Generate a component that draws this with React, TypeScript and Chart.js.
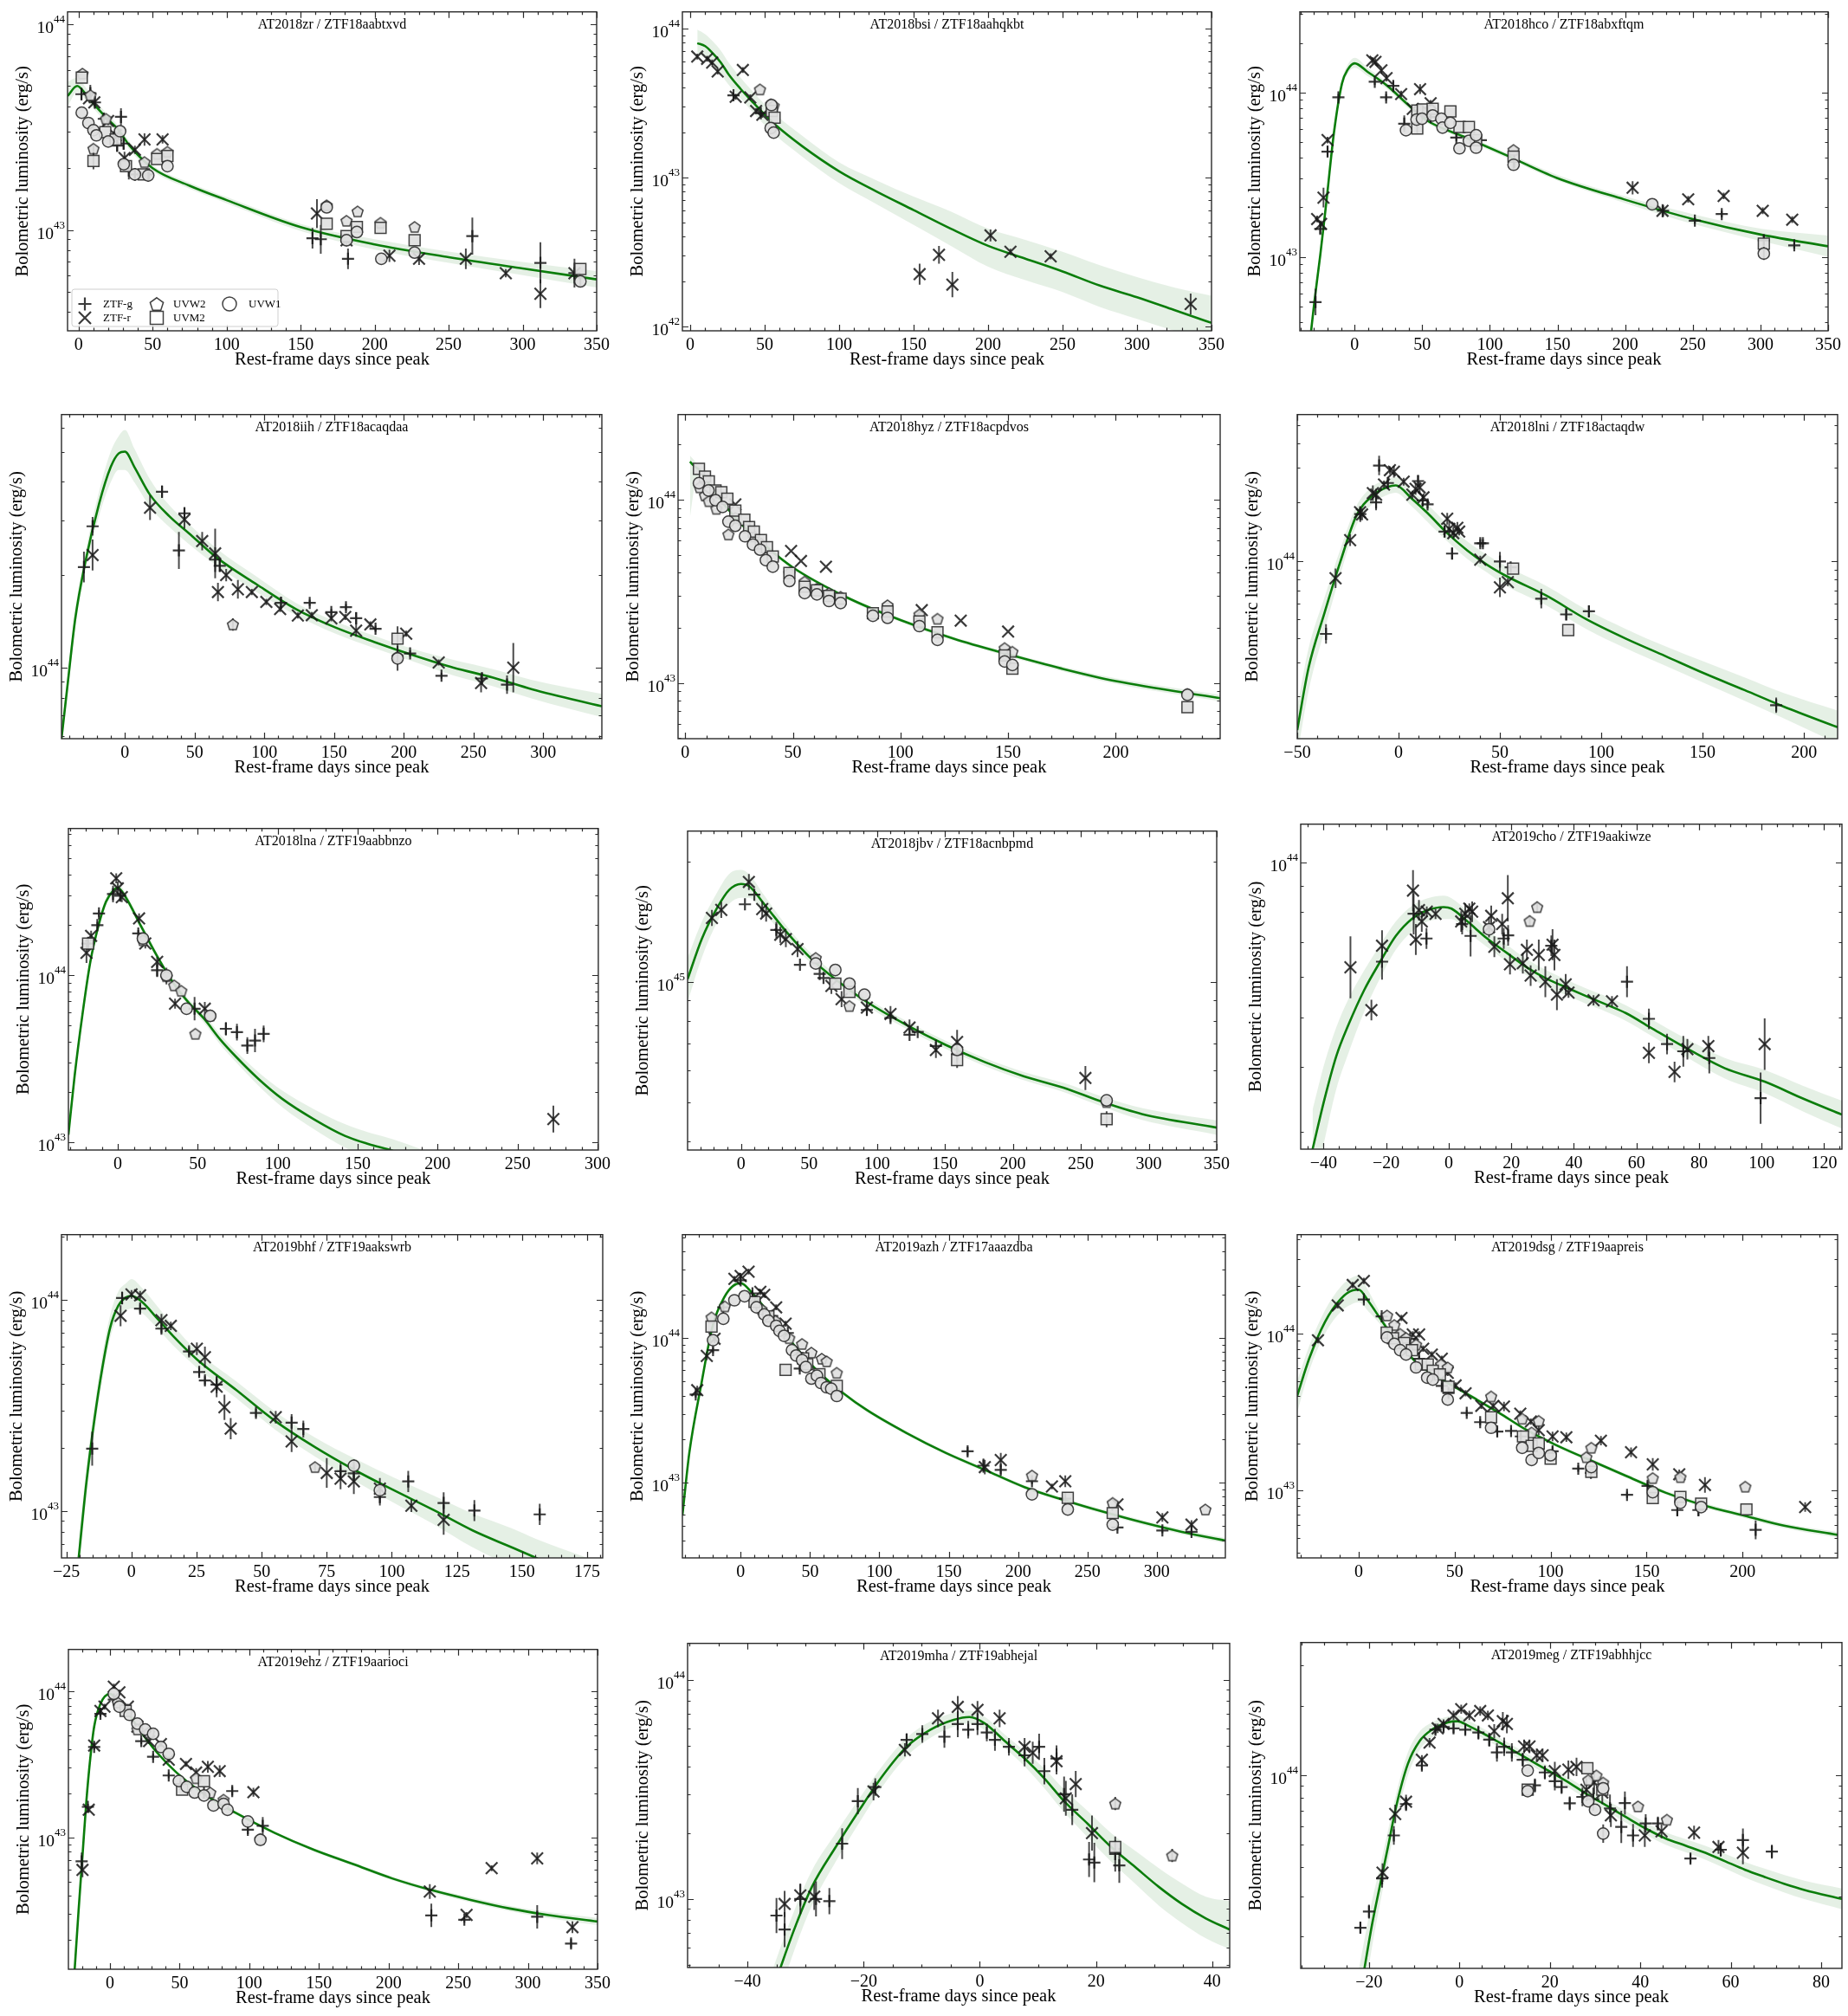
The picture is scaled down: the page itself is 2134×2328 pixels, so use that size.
import React, { useEffect, useRef } from 'react';
import { Chart, registerables } from 'chart.js';
Chart.register(...registerables);

const FONT = '"Liberation Serif", "Times New Roman", Times, serif';
const X_TITLE = 'Rest-frame days since peak';
const Y_TITLE = 'Bolometric luminosity (erg/s)';
const LEGEND_LABELS = ['ZTF-g', 'ZTF-r', 'UVW2', 'UVM2', 'UVW1'];

const MARK = 'rgba(25,25,25,0.85)';
const EDGE = 'rgba(45,45,45,0.9)';
const FILL = 'rgba(224,224,224,0.92)';
const LINE = '#0b7d0b';
const BAND = 'rgba(0,105,0,0.1)';

// Each curve row: [days, log10 L, band low, band high]; each point: [days, log10 L, error (dex)]
// ---------- AT2018zr ----------
const P1_CURVE = [[-7.5, 43.651, 43.6, 43.72], [-1, 43.7, 43.67, 43.74], [5, 43.658, 43.63, 43.69], [10, 43.614, 43.59, 43.64], [18.5, 43.547, 43.525, 43.57], [26.5, 43.49, 43.47, 43.51], [34.4, 43.41, 43.39, 43.43], [50, 43.3, 43.285, 43.315], [75, 43.215, 43.2, 43.23], [100, 43.145, 43.13, 43.16], [150, 43.014, 42.995, 43.03], [200, 42.93, 42.905, 42.955], [250, 42.868, 42.84, 42.895], [300, 42.813, 42.78, 42.845], [350, 42.76, 42.72, 42.8]];
const P1_G = [[1.9, 43.66, 0.03], [7.9, 43.665, 0.04], [11, 43.62, 0.03], [17, 43.54, 0.03], [24, 43.45, 0.03], [26, 43.41, 0.03], [28.6, 43.55, 0.042], [30.4, 43.42, 0.03], [33.9, 43.29, 0.045], [38, 43.27, 0.03], [46, 43.27, 0.03], [158, 42.96, 0.05], [163.6, 42.955, 0.07], [182, 42.86, 0.05], [266, 42.97, 0.09], [312, 42.84, 0.1], [335, 42.79, 0.07]];
const P1_R = [[7, 43.64, 0.02], [10.6, 43.62, 0.02], [19.9, 43.53, 0.02], [25, 43.46, 0.02], [31, 43.35, 0.03], [38, 43.39, 0.02], [44.5, 43.44, 0.03], [56.7, 43.44, 0.02], [161, 43.08, 0.07], [181, 42.95, 0.03], [210, 42.875, 0.03], [230, 42.86, 0.03], [261.6, 42.86, 0.05], [288.6, 42.79, 0.02], [312, 42.69, 0.07], [335, 42.79, 0.05]];
const P1_W2 = [[2.6, 43.76], [8, 43.655], [10, 43.395, 0.02], [18.5, 43.54], [44.5, 43.33], [53, 43.37], [60, 43.38], [167.6, 43.12], [181, 43.045], [188.5, 43.09], [204, 43.035], [227, 43.015]];
const P1_M2 = [[2.1, 43.74], [10, 43.335, 0.04], [18, 43.475], [25, 43.44], [32, 43.31], [44, 43.27], [53, 43.345], [60, 43.36], [167.6, 43.03], [181, 42.97], [188, 43.015], [204, 43.01], [227, 42.95], [339, 42.81]];
const P1_W1 = [[2.1, 43.57], [6.6, 43.52], [10, 43.485], [12, 43.46], [20, 43.43], [28, 43.48], [30.5, 43.32], [38, 43.27], [47, 43.265, 0.03], [60, 43.31], [167.6, 43.11], [181, 42.95], [188, 42.99], [204.5, 42.86], [227, 42.89], [339, 42.75, 0.03]];

// ---------- AT2018bsi ----------
const P2_CURVE = [[4.7, 43.9, 43.83, 43.99], [10, 43.88, 43.8, 43.96], [15.3, 43.83, 43.75, 43.91], [20.5, 43.77, 43.69, 43.85], [25.8, 43.69, 43.62, 43.77], [33.7, 43.594, 43.53, 43.67], [41.6, 43.508, 43.44, 43.58], [50, 43.42, 43.35, 43.49], [57.4, 43.35, 43.28, 43.42], [75, 43.21, 43.14, 43.28], [100, 43.04, 42.96, 43.1], [125, 42.905, 42.82, 42.98], [150, 42.78, 42.68, 42.87], [175, 42.655, 42.54, 42.77], [200, 42.54, 42.4, 42.655], [225, 42.454, 42.31, 42.58], [250, 42.368, 42.23, 42.5], [275, 42.273, 42.13, 42.41], [300, 42.195, 42.05, 42.33], [325, 42.109, 41.97, 42.26], [350, 42.023, 41.9, 42.205]];
const P2_G = [[29, 43.55, 0.02], [47.4, 43.43, 0.02]];
const P2_R = [[4.7, 43.81, 0.02], [11.3, 43.795, 0.02], [14.7, 43.77, 0.02], [18.4, 43.71, 0.02], [30.5, 43.54, 0.02], [35.3, 43.72, 0.02], [40.3, 43.536, 0.02], [44.2, 43.445, 0.02], [48.4, 43.42, 0.02], [154, 42.35, 0.07], [167, 42.48, 0.06], [176, 42.28, 0.085], [201.6, 42.61, 0.04], [215, 42.5, 0.02], [242, 42.47, 0.02], [336, 42.15, 0.07]];
const P2_W2 = [[46.8, 43.59], [54.2, 43.49], [56, 43.48]];
const P2_M2 = [[54.7, 43.445], [56.6, 43.4]];
const P2_W1 = [[54, 43.33], [56, 43.3], [54.5, 43.485]];

// ---------- AT2018hco ----------
const P3_CURVE = [[-33.5, 42.45, 42.4, 42.5], [-29.7, 42.73, 42.69, 42.78], [-25.4, 43.01, 42.97, 43.05], [-21, 43.325, 43.29, 43.36], [-15.2, 43.76, 43.73, 43.79], [-9.3, 44.056, 44.03, 44.08], [-5, 44.14, 44.115, 44.17], [0, 44.177, 44.15, 44.21], [9.6, 44.125, 44.1, 44.15], [24.2, 44.04, 44.02, 44.06], [38.8, 43.93, 43.91, 43.95], [53.3, 43.83, 43.815, 43.845], [82.5, 43.725, 43.71, 43.74], [111.6, 43.62, 43.605, 43.635], [149.5, 43.48, 43.465, 43.5], [199, 43.35, 43.33, 43.37], [250, 43.23, 43.2, 43.26], [301, 43.134, 43.095, 43.17], [350, 43.064, 43.0, 43.13]];
const P3_G = [[-28.9, 42.725, 0.08], [-25.4, 43.17, 0.03], [-20, 43.64, 0.03], [-12, 43.97, 0.02], [14.9, 44.065, 0.02], [23.3, 43.97, 0.02], [28.6, 44.04, 0.03], [36.7, 43.81, 0.05], [56.2, 43.85, 0.03], [75.2, 43.725, 0.02], [93.3, 43.71, 0.02], [118, 43.58, 0.04], [228, 43.28, 0.03], [251.5, 43.22, 0.02], [271.4, 43.26, 0.02], [302.5, 43.1, 0.03], [325, 43.07, 0.02]];
const P3_R = [[-27.7, 43.23, 0.02], [-24.8, 43.2, 0.02], [-23, 43.36, 0.06], [-20, 43.71, 0.02], [13.1, 44.195, 0.02], [15.4, 44.186, 0.02], [19.8, 44.134, 0.02], [23.6, 44.087, 0.02], [34.4, 43.99, 0.02], [43, 43.9, 0.02], [48.4, 44.02, 0.03], [56.2, 43.934, 0.02], [205.5, 43.42, 0.04], [227.6, 43.28, 0.04], [246.6, 43.35, 0.02], [272.8, 43.37, 0.02], [301.7, 43.28, 0.02], [323.5, 43.226, 0.02]];
const P3_W2 = [[49.8, 43.885], [117.5, 43.65]];
const P3_M2 = [[46.3, 43.89], [50.4, 43.896], [46.3, 43.78, 0.03], [57.7, 43.9], [70.8, 43.885], [77.5, 43.79], [84.5, 43.79], [89.8, 43.71], [117.5, 43.61], [302.5, 43.08]];
const P3_W1 = [[38, 43.77], [45.8, 43.835], [49.8, 43.84], [57.7, 43.86], [64.1, 43.84], [65, 43.786], [70.8, 43.815], [77.5, 43.66], [84.5, 43.706], [89.8, 43.74], [89.8, 43.664], [117.5, 43.56, 0.03], [220, 43.32], [302.5, 43.02, 0.04]];

// ---------- AT2018iih ----------
const P4_CURVE = [[-45.5, 43.77, 43.74, 43.8], [-41, 43.95, 43.92, 43.98], [-35.6, 44.16, 44.13, 44.19], [-28.5, 44.34, 44.31, 44.37], [-18.6, 44.53, 44.49, 44.57], [-10.2, 44.65, 44.6, 44.7], [-4.5, 44.694, 44.64, 44.75], [0, 44.7, 44.64, 44.77], [6.8, 44.65, 44.6, 44.71], [18, 44.56, 44.52, 44.61], [32, 44.49, 44.455, 44.525], [46, 44.435, 44.4, 44.465], [66, 44.356, 44.33, 44.385], [94.4, 44.27, 44.245, 44.295], [122.6, 44.19, 44.17, 44.21], [151, 44.13, 44.11, 44.15], [179, 44.083, 44.063, 44.103], [207, 44.04, 44.02, 44.06], [235.6, 44.0, 43.975, 44.025], [264, 43.968, 43.94, 43.995], [292, 43.93, 43.9, 43.96], [342, 43.875, 43.84, 43.915]];
const P4_G = [[-29.4, 44.326, 0.05], [-23.2, 44.458, 0.03], [26.6, 44.57, 0.02], [38.7, 44.38, 0.06], [42.7, 44.5, 0.02], [64.7, 44.35, 0.04], [68, 44.33, 0.02], [111.9, 44.21, 0.02], [132.5, 44.21, 0.01], [148, 44.18, 0.01], [158.5, 44.196, 0.01], [165.8, 44.16, 0.02], [179.7, 44.126, 0.01], [204.5, 44.046, 0.01], [227, 43.974, 0.01], [256, 43.965, 0.02], [274, 43.945, 0.03]];
const P4_R = [[-23.2, 44.365, 0.05], [18, 44.518, 0.04], [42.7, 44.48, 0.03], [55.4, 44.41, 0.03], [64.7, 44.37, 0.08], [66.7, 44.245, 0.03], [72.6, 44.3, 0.02], [81, 44.254, 0.03], [91, 44.245, 0.01], [101.4, 44.213, 0.01], [111.3, 44.19, 0.01], [124, 44.169, 0.01], [134, 44.17, 0.01], [148, 44.16, 0.01], [158, 44.164, 0.01], [165.8, 44.12, 0.02], [176, 44.14, 0.01], [201.7, 44.11, 0.01], [225, 44.017, 0.01], [255.4, 43.95, 0.03], [278.5, 44.0, 0.08]];
const P4_W2 = [[77.4, 44.14, 0.02], [195.5, 44.035]];
const P4_M2 = [[195.5, 44.094, 0.04]];
const P4_W1 = [[195.5, 44.03, 0.04]];

// ---------- AT2018hyz ----------
const P5_CURVE = [[2.2, 44.207, 43.9, 44.24], [4.5, 44.18, 44.08, 44.21], [6.8, 44.16, 44.13, 44.18], [12, 44.067, 44.055, 44.08], [25, 43.88, 43.87, 43.89], [37, 43.75, 43.74, 43.76], [50, 43.63, 43.62, 43.64], [75, 43.467, 43.457, 43.477], [100, 43.343, 43.333, 43.353], [125, 43.24, 43.23, 43.25], [150, 43.156, 43.145, 43.167], [175, 43.078, 43.065, 43.09], [200, 43.01, 42.995, 43.025], [248.5, 42.917, 42.9, 42.935]];
const P5_G = [];
const P5_R = [[23.3, 43.974], [49.2, 43.72], [53.8, 43.665], [65.4, 43.634], [109.9, 43.397], [128, 43.34], [150, 43.28]];
const P5_W2 = [[6.8, 44.067], [9.2, 44.023], [11, 43.992], [14.5, 43.95], [20.1, 43.81], [23.3, 43.9], [31.9, 43.8], [35.2, 43.76], [48.4, 43.6], [55.5, 43.553], [61.2, 43.514], [66.8, 43.49], [72.2, 43.47], [94, 43.424], [108.8, 43.374], [117.2, 43.35], [148.4, 43.19], [152, 43.17], [233.3, 42.94]];
const P5_M2 = [[6.4, 44.168], [9.2, 44.126], [11, 44.1], [14.1, 44.05], [16.8, 44.04], [19.6, 44.005], [23.3, 43.94], [27.5, 43.89], [29.7, 43.85], [31.9, 43.826], [35.2, 43.78], [38, 43.74], [40.7, 43.69], [48.4, 43.6], [55.5, 43.525], [61.2, 43.506], [66.8, 43.475], [72.2, 43.46], [87.2, 43.38], [94, 43.39], [108.8, 43.335], [117.2, 43.276], [148.4, 43.15], [152, 43.078], [233.3, 42.868]];
const P5_W1 = [[6.4, 44.09], [10.8, 44.05], [14.1, 43.997], [17.4, 43.96], [20.1, 43.88], [23.3, 43.857], [27.8, 43.8], [31.5, 43.755], [34.8, 43.727], [37.5, 43.67], [40.7, 43.634], [48.4, 43.556], [55.5, 43.49], [61.2, 43.483], [66.8, 43.447], [72.2, 43.436], [87.2, 43.366], [94, 43.355], [108.8, 43.31], [117.2, 43.235], [148.4, 43.117], [152, 43.098], [233.3, 42.935]];

// ---------- AT2018lni ----------
const P6_CURVE = [[-50, 43.13, 43.0, 43.25], [-44.4, 43.45, 43.33, 43.55], [-36.6, 43.73, 43.64, 43.81], [-28.7, 43.996, 43.93, 44.06], [-20.9, 44.23, 44.18, 44.28], [-13.1, 44.333, 44.29, 44.38], [-5.3, 44.38, 44.34, 44.42], [-1.4, 44.388, 44.35, 44.43], [6.5, 44.32, 44.28, 44.36], [14.3, 44.245, 44.2, 44.29], [24, 44.142, 44.1, 44.19], [33.8, 44.054, 44.01, 44.1], [43.6, 43.98, 43.94, 44.03], [53.4, 43.92, 43.87, 43.97], [73, 43.82, 43.77, 43.87], [92.5, 43.7, 43.65, 43.75], [112, 43.6, 43.55, 43.65], [131.6, 43.51, 43.46, 43.56], [151, 43.42, 43.37, 43.48], [170.7, 43.335, 43.28, 43.4], [190, 43.25, 43.19, 43.32], [216.6, 43.144, 43.06, 43.23]];
const P6_G = [[-35.8, 43.624, 0.05], [-18.9, 44.24, 0.04], [-11.1, 44.3, 0.04], [-9.6, 44.49, 0.05], [-5.3, 44.4, 0.03], [9.6, 44.41, 0.03], [11.9, 44.31, 0.03], [14.3, 44.29, 0.02], [22.7, 44.15, 0.03], [26.4, 44.037, 0.03], [40.3, 44.09, 0.02], [41.6, 44.09, 0.02], [50, 43.996, 0.05], [55.3, 43.966, 0.02], [70.4, 43.805, 0.05], [82.7, 43.724, 0.03], [93.9, 43.74, 0.03], [186.3, 43.257, 0.04]];
const P6_R = [[-31.1, 43.91, 0.05], [-23.9, 44.106, 0.03], [-19, 44.25, 0.03], [-18, 44.238, 0.03], [-12.7, 44.348, 0.04], [-11.1, 44.34, 0.03], [-7.2, 44.392, 0.02], [-4.3, 44.466, 0.02], [-2.3, 44.458, 0.03], [2.5, 44.407, 0.02], [6.8, 44.34, 0.02], [8.4, 44.37, 0.03], [10.4, 44.377, 0.03], [12.3, 44.326, 0.02], [24, 44.216, 0.03], [25, 44.164, 0.04], [27, 44.142, 0.03], [29, 44.17, 0.03], [29.9, 44.15, 0.02], [40.3, 44.006, 0.02], [50, 43.863, 0.05], [53.9, 43.89, 0.02]];
const P6_W2 = [];
const P6_M2 = [[56.5, 43.96], [83.7, 43.643]];
const P6_W1 = [];

// ---------- AT2018lna ----------
const P7_CURVE = [[-30.9, 43.046, 43.0, 43.09], [-27, 43.4, 43.36, 43.44], [-22, 43.774, 43.74, 43.81], [-17.2, 44.08, 44.05, 44.11], [-12.3, 44.29, 44.26, 44.32], [-7.4, 44.44, 44.415, 44.465], [-2.5, 44.51, 44.485, 44.535], [0, 44.524, 44.5, 44.55], [4.9, 44.467, 44.445, 44.49], [14.7, 44.29, 44.27, 44.31], [24.5, 44.116, 44.095, 44.135], [34.3, 43.96, 43.94, 43.98], [44, 43.84, 43.82, 43.86], [54, 43.74, 43.715, 43.765], [63.7, 43.62, 43.59, 43.65], [73.5, 43.517, 43.485, 43.55], [88, 43.38, 43.34, 43.42], [103, 43.26, 43.21, 43.31], [122.5, 43.14, 43.08, 43.2], [142, 43.04, 42.97, 43.11], [157, 42.99, 42.91, 43.06], [172, 42.95, 42.89, 43.02], [191, 42.88, 42.81, 42.955]];
const P7_G = [[-18.6, 44.19, 0.04], [-12.8, 44.3, 0.02], [-11.8, 44.37, 0.02], [-3, 44.486, 0.05], [1.5, 44.476, 0.03], [12.8, 44.25, 0.02], [24.6, 44.03, 0.04], [30.4, 43.995, 0.05], [48, 43.8, 0.07], [67.6, 43.68, 0.04], [74.5, 43.66, 0.05], [81, 43.58, 0.05], [85.8, 43.61, 0.07], [91.2, 43.65, 0.05]];
const P7_R = [[-19.6, 44.134, 0.06], [-16.7, 44.236, 0.03], [-1, 44.58, 0.03], [0, 44.52, 0.04], [2.5, 44.467, 0.03], [13.3, 44.34, 0.03], [17.2, 44.19, 0.03], [24.6, 44.08, 0.03], [35.8, 43.83, 0.03], [54.4, 43.8, 0.04], [272.4, 43.14, 0.08]];
const P7_W2 = [[15.7, 44.21], [30.4, 43.995], [35.3, 43.94], [39.7, 43.907], [48.5, 43.65], [57.8, 43.76]];
const P7_M2 = [[-18.6, 44.19]];
const P7_W1 = [[15.7, 44.22], [30.4, 44.0], [43, 43.8], [57.8, 43.757]];

// ---------- AT2018jbv ----------
const P8_CURVE = [[-39.3, 45.007, 44.95, 45.06], [-28.9, 45.107, 45.06, 45.15], [-17.4, 45.186, 45.15, 45.225], [-8.7, 45.23, 45.195, 45.27], [0, 45.245, 45.21, 45.28], [5.8, 45.24, 45.21, 45.27], [17.4, 45.193, 45.17, 45.215], [34.7, 45.12, 45.105, 45.135], [52, 45.057, 45.045, 45.07], [69.4, 45.007, 44.995, 45.02], [92.6, 44.95, 44.94, 44.96], [121.5, 44.893, 44.883, 44.903], [150.4, 44.843, 44.833, 44.853], [179.3, 44.8, 44.79, 44.81], [208.3, 44.764, 44.754, 44.775], [237.2, 44.736, 44.725, 44.748], [266, 44.7, 44.688, 44.713], [295, 44.67, 44.655, 44.685], [350, 44.636, 44.618, 44.654]];
const P8_G = [[2.9, 45.194], [9.8, 45.218], [26, 45.13, 0.02], [43.4, 45.043], [57.9, 45.02], [60.7, 45.01], [92.6, 44.93], [110, 44.91], [124, 44.868], [130, 44.875], [143.4, 44.84], [159, 44.82, 0.02]];
const P8_R = [[-21.4, 45.16, 0.02], [-14.5, 45.18, 0.02], [5.8, 45.25, 0.02], [15.6, 45.182, 0.02], [18.5, 45.171, 0.02], [28.9, 45.118, 0.02], [33, 45.107, 0.02], [41.6, 45.082, 0.02], [66.5, 44.99, 0.02], [74, 44.957, 0.02], [92.6, 44.936, 0.02], [110, 44.92, 0.02], [124, 44.886, 0.02], [143.4, 44.83, 0.02], [159, 44.85, 0.03], [253.4, 44.76, 0.03]];
const P8_W2 = [[55, 45.06], [79.8, 44.94], [269, 44.7]];
const P8_M2 = [[69.4, 44.996], [79.8, 44.975], [159, 44.805, 0.02], [269, 44.657, 0.02]];
const P8_W1 = [[55, 45.046], [69.4, 45.03], [79.8, 44.996], [90.8, 44.968], [159, 44.83], [269, 44.704]];

// ---------- AT2019cho ----------
const P9_CURVE = [[-43.5, 43.443, 43.35, 43.52], [-39.7, 43.54, 43.46, 43.61], [-35.9, 43.624, 43.56, 43.68], [-32, 43.685, 43.63, 43.735], [-27, 43.752, 43.71, 43.79], [-21.9, 43.807, 43.775, 43.84], [-16.9, 43.857, 43.83, 43.885], [-11.8, 43.89, 43.865, 43.915], [-6.7, 43.907, 43.885, 43.93], [-1.6, 43.913, 43.89, 43.935], [0.9, 43.91, 43.89, 43.93], [6, 43.885, 43.865, 43.905], [12.3, 43.852, 43.835, 43.87], [18.6, 43.824, 43.807, 43.84], [25, 43.796, 43.78, 43.812], [31.3, 43.774, 43.758, 43.79], [37.6, 43.757, 43.742, 43.772], [44, 43.74, 43.725, 43.755], [50.3, 43.724, 43.71, 43.74], [56.7, 43.707, 43.692, 43.722], [64.3, 43.68, 43.665, 43.697], [75.7, 43.64, 43.623, 43.658], [88.3, 43.6, 43.58, 43.62], [101, 43.574, 43.552, 43.597], [113.7, 43.54, 43.515, 43.565], [125.7, 43.51, 43.483, 43.537]];
const P9_G = [[-21.3, 43.807, 0.035], [-11.2, 43.9, 0.04], [-7.1, 43.852, 0.02], [4.3, 43.88, 0.02], [7, 43.857, 0.04], [17.6, 43.852, 0.02], [19, 43.858, 0.02], [32.8, 43.838, 0.02], [57, 43.768, 0.03], [64, 43.696, 0.02], [69.8, 43.647, 0.02], [75, 43.633, 0.03], [83.3, 43.62, 0.03], [99.7, 43.542, 0.05]];
const P9_R = [[-31.4, 43.796, 0.06], [-24.7, 43.713, 0.02], [-21.3, 43.838, 0.03], [-11.4, 43.945, 0.04], [-10.5, 43.85, 0.03], [-9.5, 43.907, 0.02], [-8.6, 43.885, 0.02], [-7, 43.904, 0.01], [-4.2, 43.9, 0.01], [4, 43.885, 0.02], [5.3, 43.9, 0.02], [6.6, 43.91, 0.01], [7.5, 43.904, 0.02], [12.9, 43.874, 0.02], [13.6, 43.896, 0.02], [14.6, 43.836, 0.02], [17.1, 43.88, 0.02], [18.9, 43.93, 0.045], [19.6, 43.802, 0.02], [23.7, 43.804, 0.02], [25, 43.83, 0.02], [26.2, 43.78, 0.02], [28.8, 43.82, 0.03], [30.9, 43.768, 0.03], [33.2, 43.84, 0.03], [33.8, 43.82, 0.03], [34.6, 43.743, 0.03], [37.4, 43.763, 0.02], [38.3, 43.747, 0.01], [46.3, 43.732, 0.01], [52.2, 43.73, 0.01], [64, 43.63, 0.02], [72.2, 43.593, 0.02], [76.3, 43.637, 0.02], [83, 43.643, 0.02], [101, 43.647, 0.05]];
const P9_W2 = [[25.9, 43.886, 0.01], [28.3, 43.913, 0.01]];
const P9_M2 = [];
const P9_W1 = [[12.9, 43.87]];

// ---------- AT2019bhf ----------
const P10_CURVE = [[-20.3, 42.78, 42.7, 42.86], [-17.3, 43.14, 43.07, 43.21], [-14.2, 43.44, 43.38, 43.5], [-11.2, 43.68, 43.62, 43.74], [-8.2, 43.87, 43.82, 43.93], [-5.1, 43.973, 43.92, 44.04], [-2.1, 44.0135, 43.95, 44.08], [0, 44.02, 43.96, 44.1], [3.9, 43.993, 43.94, 44.06], [10, 43.912, 43.865, 43.97], [16, 43.83, 43.785, 43.88], [25.1, 43.72, 43.68, 43.76], [40.3, 43.574, 43.535, 43.615], [55.4, 43.426, 43.385, 43.47], [70.5, 43.304, 43.26, 43.35], [85.7, 43.196, 43.145, 43.25], [100.8, 43.1, 43.04, 43.16], [116, 43.007, 42.94, 43.075], [131, 42.91, 42.83, 42.99], [146, 42.83, 42.74, 42.92], [155.3, 42.78, 42.69, 42.87], [175, 42.66, 42.56, 42.78]];
const P10_G = [[-15.1, 43.297, 0.08], [-3.6, 44.01, 0.03], [3.3, 43.96, 0.02], [11.5, 43.865, 0.02], [22.1, 43.757, 0.02], [26, 43.66, 0.02], [28.2, 43.62, 0.02], [32.7, 43.6, 0.04], [47.8, 43.466, 0.02], [61.5, 43.42, 0.04], [66, 43.39, 0.04], [80.3, 43.19, 0.04], [85.4, 43.18, 0.04], [95.4, 43.068, 0.04], [106.3, 43.142, 0.05], [119.9, 43.04, 0.05], [131.7, 43.004, 0.05], [156.8, 42.986, 0.05]];
const P10_R = [[-4.2, 43.926, 0.05], [0, 44.027, 0.02], [3.3, 44.023, 0.02], [11.5, 43.905, 0.03], [15.1, 43.878, 0.02], [25.1, 43.77, 0.03], [28.2, 43.73, 0.05], [32.7, 43.59, 0.05], [35.7, 43.493, 0.06], [38.1, 43.392, 0.05], [55.4, 43.446, 0.03], [61.5, 43.331, 0.05], [75, 43.182, 0.07], [80.3, 43.155, 0.05], [85.4, 43.142, 0.06], [95.4, 43.108, 0.05], [107.5, 43.027, 0.03], [119.9, 42.96, 0.07]];
const P10_W2 = [[70.5, 43.21, 0.02]];
const P10_M2 = [];
const P10_W1 = [[85.4, 43.216, 0.03], [95.4, 43.1]];

// ---------- AT2019azh ----------
const P11_CURVE = [[-42, 42.773, 42.75, 42.8], [-37, 43.207, 43.19, 43.225], [-28.4, 43.68, 43.665, 43.695], [-19.9, 44.095, 44.08, 44.11], [-11.4, 44.29, 44.275, 44.305], [-5.7, 44.36, 44.345, 44.375], [0, 44.38, 44.365, 44.395], [8.5, 44.31, 44.295, 44.325], [17, 44.213, 44.2, 44.226], [28.4, 44.075, 44.062, 44.088], [39.8, 43.937, 43.925, 43.95], [56.8, 43.76, 43.748, 43.772], [73.9, 43.62, 43.608, 43.632], [90.9, 43.503, 43.49, 43.515], [119.3, 43.345, 43.333, 43.357], [147.7, 43.207, 43.195, 43.22], [176, 43.089, 43.076, 43.102], [204.5, 42.97, 42.957, 42.983], [233, 42.88, 42.866, 42.894], [261, 42.8, 42.785, 42.815], [289.8, 42.725, 42.709, 42.741], [318, 42.66, 42.643, 42.677], [349.4, 42.6, 42.582, 42.618]];
const P11_G = [[-32.4, 43.61, 0.02], [-19.9, 43.917, 0.02], [-12.5, 44.213, 0.02], [0, 44.4, 0.02], [8.5, 44.31, 0.02], [10.2, 44.256, 0.02], [22.7, 44.154, 0.02], [34, 44.036, 0.02], [40.9, 43.897, 0.02], [42.6, 43.79, 0.02], [163.6, 43.217, 0.03], [175, 43.118, 0.05], [187.5, 43.089, 0.03], [210, 43.01, 0.02], [234, 42.89, 0.02], [271.6, 42.69, 0.02], [304, 42.67, 0.02], [325, 42.66, 0.02]];
const P11_R = [[-31.3, 43.64, 0.03], [-24.4, 43.877, 0.03], [-18.8, 43.996, 0.03], [-4.5, 44.41, 0.02], [0, 44.43, 0.02], [5.7, 44.46, 0.02], [14.2, 44.32, 0.02], [17, 44.3, 0.02], [25.6, 44.213, 0.02], [32.4, 44.1, 0.02], [176, 43.108, 0.05], [187.5, 43.157, 0.05], [224.4, 42.974, 0.02], [234, 43.01, 0.04], [271.6, 42.85, 0.02], [304, 42.76, 0.03], [325, 42.71, 0.03]];
const P11_W2 = [[-21, 44.144], [-11.4, 44.22], [15, 44.2], [25, 44.12], [35, 44.0], [44.3, 43.96], [51, 43.9], [58.5, 43.858], [62, 43.84], [69.3, 43.76], [210, 43.05], [268.2, 42.86], [335, 42.815]];
const P11_M2 = [[-21, 44.08], [10, 44.25], [20, 44.15], [32.4, 43.78], [45, 43.86], [48, 43.82], [56.8, 43.75], [69.3, 43.67], [235.8, 42.895], [268.2, 42.79]];
const P11_W1 = [[-19.9, 43.986], [-12.5, 44.134], [-4.5, 44.262], [2.8, 44.29], [11.4, 44.213], [17, 44.164], [20, 44.12], [25.6, 44.085], [28, 44.05], [31.3, 44.016], [37, 43.917], [40, 43.88], [44.3, 43.848], [47, 43.8], [51, 43.72], [55, 43.74], [57.9, 43.69], [62, 43.66], [65.3, 43.65], [69.3, 43.6], [210, 42.92], [235.8, 42.815], [268.2, 42.71]];

// ---------- AT2019dsg ----------
const P12_CURVE = [[-32, 43.604, 43.5, 43.7], [-25.8, 43.84, 43.76, 43.92], [-17.5, 44.076, 44.0, 44.15], [-9.3, 44.222, 44.14, 44.3], [-3.1, 44.276, 44.19, 44.36], [0, 44.28, 44.2, 44.37], [5.2, 44.204, 44.14, 44.27], [11.3, 44.095, 44.06, 44.13], [19.6, 43.95, 43.93, 43.97], [29.9, 43.82, 43.805, 43.835], [40.2, 43.73, 43.715, 43.745], [50.5, 43.658, 43.645, 43.67], [60.8, 43.585, 43.572, 43.598], [73.2, 43.495, 43.483, 43.507], [87.6, 43.385, 43.373, 43.397], [102, 43.295, 43.283, 43.307], [118.6, 43.204, 43.192, 43.216], [139, 43.095, 43.083, 43.107], [159.8, 42.987, 42.975, 43.0], [180.4, 42.904, 42.89, 42.918], [201, 42.84, 42.825, 42.855], [221.6, 42.776, 42.76, 42.792], [249.5, 42.718, 42.7, 42.736]];
const P12_G = [[2.7, 44.218, 0.02], [12, 44.11, 0.02], [26.8, 43.967, 0.02], [31.5, 43.84, 0.02], [43.3, 43.667, 0.02], [46.8, 43.622, 0.03], [56.3, 43.495, 0.02], [63.3, 43.436, 0.02], [72.2, 43.376, 0.03], [79.4, 43.38, 0.02], [84.5, 43.345, 0.02], [101, 43.25, 0.03], [114.4, 43.14, 0.02], [121, 43.113, 0.03], [139.8, 42.973, 0.02], [150.5, 43.03, 0.03], [166, 42.876, 0.04], [177, 42.876, 0.04], [206.8, 42.75, 0.06]];
const P12_R = [[-21.2, 43.958, 0.02], [-10.9, 44.18, 0.02], [-3.1, 44.31, 0.02], [2.7, 44.336, 0.02], [22.3, 44.1, 0.02], [28.2, 43.995, 0.02], [31.5, 43.995, 0.02], [33.6, 43.904, 0.02], [38.1, 43.867, 0.02], [43.3, 43.84, 0.02], [46.4, 43.75, 0.02], [50.5, 43.67, 0.02], [55.7, 43.62, 0.02], [63.9, 43.54, 0.02], [70.1, 43.54, 0.02], [75.7, 43.536, 0.03], [84.2, 43.49, 0.02], [89.7, 43.44, 0.02], [93.8, 43.385, 0.03], [101, 43.345, 0.03], [108.2, 43.34, 0.03], [126.2, 43.318, 0.03], [141.9, 43.244, 0.03], [153.2, 43.167, 0.04], [167, 43.104, 0.03], [180.4, 43.036, 0.05], [232.6, 42.895, 0.03]];
const P12_W2 = [[14.8, 44.116], [18.6, 44.055], [21.6, 43.998], [24.7, 43.973], [29.9, 43.93], [42.9, 43.804], [46.4, 43.785], [69, 43.6], [85.2, 43.458], [90.1, 43.37], [93.8, 43.444], [118.6, 43.213], [121.2, 43.273], [153.2, 43.08], [167.6, 43.086], [201.4, 43.025]];
const P12_M2 = [[14.6, 44.007], [17.9, 43.97], [23.7, 43.94], [27.8, 43.895], [32.4, 43.804], [36, 43.804], [38.6, 43.764], [42.3, 43.74], [46.8, 43.662], [69, 43.467], [85.6, 43.345], [90.1, 43.285], [93.8, 43.3], [100, 43.204], [121.2, 43.12], [153.2, 42.953], [167.6, 42.96], [178.4, 42.916], [202, 42.88]];
const P12_W1 = [[14.8, 43.976], [18.6, 43.935], [21.6, 43.895], [24.7, 43.867], [29.9, 43.785], [35.7, 43.72], [38.6, 43.707], [46.4, 43.58], [69, 43.4], [85.2, 43.273], [90.1, 43.195], [93.8, 43.24], [100, 43.225], [121.2, 43.15], [153.2, 42.99], [167.6, 42.922], [178.4, 42.895]];

// ---------- AT2019ehz ----------
const P13_CURVE = [[-25.3, 42.098, 42.08, 42.12], [-22.5, 42.5, 42.48, 42.52], [-19.7, 42.876, 42.86, 42.895], [-16.9, 43.25, 43.235, 43.265], [-14.1, 43.543, 43.53, 43.556], [-11.3, 43.76, 43.748, 43.772], [-6.8, 43.916, 43.905, 43.928], [0, 43.984, 43.972, 43.996], [5.6, 43.935, 43.924, 43.946], [14.1, 43.837, 43.826, 43.848], [22.5, 43.72, 43.71, 43.73], [33.8, 43.582, 43.572, 43.592], [47.8, 43.445, 43.435, 43.455], [67.5, 43.298, 43.288, 43.308], [90, 43.17, 43.16, 43.18], [118, 43.033, 43.023, 43.043], [146.3, 42.916, 42.905, 42.927], [174.5, 42.818, 42.806, 42.83], [202.6, 42.72, 42.707, 42.733], [230.7, 42.64, 42.625, 42.655], [258.9, 42.573, 42.556, 42.59], [287, 42.514, 42.495, 42.533], [315, 42.469, 42.448, 42.49], [350, 42.425, 42.4, 42.45]];
const P13_G = [[-20.3, 42.837, 0.06], [-15.8, 43.21, 0.02], [-11.3, 43.62, 0.02], [-6.8, 43.847, 0.02], [2.8, 43.945, 0.02], [22.5, 43.66, 0.02], [31, 43.553, 0.02], [42.2, 43.425, 0.02], [50.6, 43.367, 0.02], [67.5, 43.308, 0.02], [87.8, 43.318, 0.03], [99, 43.053, 0.03], [109.7, 43.08, 0.06], [230.7, 42.467, 0.08], [254.4, 42.437, 0.02], [306.7, 42.457, 0.08], [331, 42.274, 0.03]];
const P13_R = [[-19.7, 42.778, 0.05], [-15.2, 43.19, 0.02], [-11.3, 43.63, 0.02], [-6.8, 43.867, 0.02], [-3.9, 43.896, 0.02], [2.8, 44.033, 0.02], [6.8, 43.994, 0.02], [12.9, 43.896, 0.02], [19.7, 43.76, 0.02], [28.1, 43.66, 0.02], [36.6, 43.64, 0.02], [42.2, 43.533, 0.02], [54.6, 43.504, 0.02], [61.9, 43.445, 0.03], [70.3, 43.484, 0.04], [78.8, 43.455, 0.04], [103, 43.31, 0.03], [229.6, 42.63, 0.05], [256, 42.47, 0.02], [274, 42.79, 0.02], [306.7, 42.857, 0.04], [332, 42.386, 0.04]];
const P13_W2 = [[5.6, 43.925], [19.7, 43.74], [28.1, 43.72], [61.9, 43.406], [72, 43.308], [81.6, 43.259], [108, 42.99]];
const P13_M2 = [[11.3, 43.867], [51.8, 43.327], [67.5, 43.386]];
const P13_W1 = [[2.8, 43.984], [6.8, 43.896], [14.1, 43.84], [19.7, 43.78], [25.3, 43.74], [31, 43.71], [36.6, 43.62], [42.2, 43.573], [49.5, 43.387], [55.2, 43.347], [60.8, 43.308], [67.5, 43.288], [74.3, 43.22], [81.6, 43.23], [84.4, 43.19], [99, 43.11], [108, 42.984]];

// ---------- AT2019mha ----------
const P14_CURVE = [[-36, 42.55, 42.44, 42.65], [-34.3, 42.687, 42.58, 42.78], [-31.6, 42.885, 42.79, 42.97], [-28.9, 43.055, 42.97, 43.13], [-24.8, 43.237, 43.17, 43.3], [-20.7, 43.407, 43.35, 43.46], [-16.7, 43.563, 43.515, 43.61], [-12.6, 43.694, 43.65, 43.735], [-8.5, 43.772, 43.735, 43.81], [-4.5, 43.817, 43.785, 43.85], [-1.8, 43.83, 43.8, 43.86], [0.9, 43.8, 43.77, 43.83], [4.3, 43.72, 43.69, 43.75], [7.7, 43.641, 43.605, 43.675], [11.1, 43.55, 43.505, 43.595], [14.5, 43.446, 43.395, 43.5], [18.6, 43.342, 43.28, 43.4], [22.6, 43.237, 43.17, 43.3], [26.7, 43.146, 43.07, 43.22], [30.8, 43.055, 42.97, 43.14], [34.8, 42.977, 42.89, 43.07], [38.9, 42.911, 42.82, 43.01], [43, 42.86, 42.77, 42.99]];
const P14_G = [[-35, 42.924, 0.08], [-33.6, 42.86, 0.08], [-30.9, 43.0, 0.07], [-28.2, 43.0, 0.08], [-25.9, 42.99, 0.06], [-23.7, 43.252, 0.07], [-21, 43.446, 0.06], [-18, 43.51, 0.04], [-12.6, 43.726, 0.03], [-9.9, 43.752, 0.04], [-6.1, 43.74, 0.05], [-3.8, 43.798, 0.06], [-2, 43.772, 0.04], [-0.4, 43.798, 0.05], [1.2, 43.759, 0.04], [2.6, 43.726, 0.05], [5, 43.694, 0.04], [7.7, 43.655, 0.05], [10.2, 43.694, 0.06], [11.1, 43.583, 0.06], [13.2, 43.641, 0.06], [14.5, 43.478, 0.08], [15.9, 43.407, 0.07], [18.8, 43.18, 0.08], [19.7, 43.166, 0.09], [23.3, 43.205, 0.08], [24, 43.153, 0.08]];
const P14_R = [[-33.6, 42.977, 0.06], [-30.9, 43.016, 0.05], [-28.5, 43.01, 0.06], [-18.3, 43.49, 0.04], [-12.9, 43.68, 0.03], [-7.2, 43.824, 0.04], [-3.8, 43.876, 0.05], [-0.4, 43.863, 0.04], [3.4, 43.824, 0.04], [7.7, 43.694, 0.04], [9.1, 43.667, 0.05], [13.2, 43.628, 0.06], [14.8, 43.459, 0.08], [16.5, 43.524, 0.06], [19.3, 43.3, 0.08]];
const P14_W2 = [[23.3, 43.435, 0.03], [33.1, 43.198, 0.03]];
const P14_M2 = [[23.3, 43.237, 0.03]];
const P14_W1 = [];

// ---------- AT2019meg ----------
const P15_CURVE = [[-23, 42.93, 42.8, 43.08], [-21, 43.164, 43.05, 43.29], [-19.3, 43.356, 43.26, 43.46], [-17.5, 43.53, 43.45, 43.61], [-15.8, 43.69, 43.62, 43.76], [-14, 43.864, 43.8, 43.92], [-11.4, 44.05, 44.0, 44.1], [-8.8, 44.149, 44.11, 44.19], [-6.1, 44.198, 44.165, 44.23], [-2.6, 44.23, 44.205, 44.255], [-0.4, 44.235, 44.21, 44.26], [1.8, 44.217, 44.195, 44.24], [6.1, 44.173, 44.152, 44.194], [10.5, 44.124, 44.103, 44.145], [14.9, 44.074, 44.053, 44.095], [19.3, 44.025, 44.004, 44.046], [23.7, 43.975, 43.953, 43.997], [28.1, 43.92, 43.897, 43.943], [32.5, 43.87, 43.846, 43.894], [36.8, 43.82, 43.795, 43.845], [41.2, 43.77, 43.744, 43.796], [45.6, 43.727, 43.7, 43.754], [50, 43.696, 43.668, 43.724], [54.4, 43.665, 43.635, 43.695], [58.8, 43.628, 43.596, 43.66], [63.2, 43.591, 43.557, 43.625], [67.5, 43.56, 43.524, 43.596], [71.9, 43.53, 43.492, 43.568], [76.3, 43.504, 43.464, 43.544], [84.6, 43.465, 43.42, 43.51]];
const P15_G = [[-21.9, 43.34, 0.025], [-20, 43.41, 0.03], [-17.1, 43.554, 0.04], [-14.5, 43.74, 0.04], [-11.8, 43.876, 0.03], [-8.3, 44.043, 0.02], [-5.3, 44.198, 0.02], [-3.5, 44.21, 0.02], [-1.3, 44.204, 0.02], [1.3, 44.198, 0.02], [4.2, 44.186, 0.03], [6.6, 44.155, 0.03], [8.3, 44.1, 0.04], [9.9, 44.124, 0.04], [11.6, 44.1, 0.04], [14, 44.068, 0.03], [16.7, 43.957, 0.03], [18.9, 44.013, 0.03], [21.1, 43.975, 0.04], [22.6, 43.95, 0.03], [24.4, 43.879, 0.03], [27.2, 43.907, 0.04], [29.6, 43.897, 0.05], [33.3, 43.857, 0.06], [35.8, 43.777, 0.07], [36.6, 43.88, 0.05], [38.4, 43.74, 0.05], [41.2, 43.792, 0.04], [43.9, 43.792, 0.03], [51.1, 43.64, 0.02], [57.8, 43.678, 0.03], [62.7, 43.72, 0.05], [69.1, 43.67, 0.03]];
const P15_R = [[-17, 43.579, 0.04], [-14.2, 43.833, 0.04], [-11.8, 43.886, 0.03], [-8.3, 44.068, 0.02], [-6.6, 44.142, 0.02], [-4.8, 44.204, 0.02], [-3.5, 44.223, 0.02], [-1.3, 44.26, 0.02], [0.4, 44.287, 0.02], [2.2, 44.26, 0.02], [4.6, 44.279, 0.02], [6.3, 44.26, 0.02], [7.7, 44.192, 0.03], [9.6, 44.235, 0.04], [10.5, 44.223, 0.04], [14.3, 44.126, 0.03], [15.5, 44.126, 0.03], [17.1, 44.087, 0.03], [18.4, 44.087, 0.03], [21.1, 44.019, 0.04], [24.1, 44.025, 0.04], [25.9, 44.037, 0.04], [28.1, 43.938, 0.05], [29.8, 43.969, 0.05], [31.6, 43.926, 0.05], [33.5, 43.827, 0.05], [41, 43.74, 0.05], [44.7, 43.758, 0.03], [51.9, 43.752, 0.03], [57.3, 43.69, 0.03], [62.7, 43.665, 0.05]];
const P15_W2 = [[28.5, 43.98], [30.3, 44.0], [31.8, 43.969], [39.5, 43.866], [45.9, 43.808]];
const P15_M2 = [[15.1, 43.938], [28.3, 44.031], [31.6, 43.938]];
const P15_W1 = [[15.1, 44.021], [15.1, 43.932], [28.5, 43.888], [30, 43.851], [31.8, 43.944], [31.8, 43.748, 0.04]];

// Panel descriptions: title, data, axis limits (x in days with major step, y as log10 L) and plot-area box on the page
const PANELS = [
  { title: 'AT2018zr / ZTF18aabtxvd', curve: P1_CURVE, pts: [P1_G, P1_R, P1_W2, P1_M2, P1_W1], x: [-7.5, 350, 50], y: [42.51, 44.06], box: [78, 10, 693, 382], legend: true },
  { title: 'AT2018bsi / ZTF18aahqkbt', curve: P2_CURVE, pts: [P2_G, P2_R, P2_W2, P2_M2, P2_W1], x: [-5.3, 350, 50], y: [41.97, 44.11], box: [788, 10, 1403, 382] },
  { title: 'AT2018hco / ZTF18abxftqm', curve: P3_CURVE, pts: [P3_G, P3_R, P3_W2, P3_M2, P3_W1], x: [-40.5, 350, 50], y: [42.55, 44.49], box: [1501, 10, 2115, 382] },
  { title: 'AT2018iih / ZTF18acaqdaa', curve: P4_CURVE, pts: [P4_G, P4_R, P4_W2, P4_M2, P4_W1], x: [-45.5, 342, 50], y: [43.77, 44.82], box: [71, 475, 695, 853] },
  { title: 'AT2018hyz / ZTF18acpdvos', curve: P5_CURVE, pts: [P5_G, P5_R, P5_W2, P5_M2, P5_W1], x: [-3.3, 248.5, 50], y: [42.696, 44.464], box: [783, 475, 1409, 853] },
  { title: 'AT2018lni / ZTF18actaqdw', curve: P6_CURVE, pts: [P6_G, P6_R, P6_W2, P6_M2, P6_W1], x: [-50, 216.6, 50], y: [43.085, 44.752], box: [1498, 475, 2122, 853] },
  { title: 'AT2018lna / ZTF19aabbnzo', curve: P7_CURVE, pts: [P7_G, P7_R, P7_W2, P7_M2, P7_W1], x: [-30.9, 300.5, 50], y: [42.955, 44.878], box: [79, 953, 694, 1328] },
  { title: 'AT2018jbv / ZTF18acnbpmd', curve: P8_CURVE, pts: [P8_G, P8_R, P8_W2, P8_M2, P8_W1], x: [-39.3, 350, 50], y: [44.58, 45.377], box: [794, 956, 1409, 1328] },
  { title: 'AT2019cho / ZTF19aakiwze', curve: P9_CURVE, pts: [P9_G, P9_R, P9_W2, P9_M2, P9_W1], x: [-47.3, 125.7, 20], y: [43.443, 44.074], box: [1502, 948, 2127, 1327] },
  { title: 'AT2019bhf / ZTF19aakswrb', curve: P10_CURVE, pts: [P10_G, P10_R, P10_W2, P10_M2, P10_W1], x: [-26.9, 181, 25], y: [42.78, 44.31], box: [71, 1422, 696, 1799] },
  { title: 'AT2019azh / ZTF17aaazdba', curve: P11_CURVE, pts: [P11_G, P11_R, P11_W2, P11_M2, P11_W1], x: [-42, 349.4, 50], y: [42.48, 44.716], box: [788, 1422, 1415, 1799] },
  { title: 'AT2019dsg / ZTF19aapreis', curve: P12_CURVE, pts: [P12_G, P12_R, P12_W2, P12_M2, P12_W1], x: [-32, 249.5, 50], y: [42.571, 44.631], box: [1498, 1422, 2122, 1799] },
  { title: 'AT2019ehz / ZTF19aarioci', curve: P13_CURVE, pts: [P13_G, P13_R, P13_W2, P13_M2, P13_W1], x: [-29.8, 350, 50], y: [42.098, 44.288], box: [79, 1901, 694, 2274] },
  { title: 'AT2019mha / ZTF19abhejal', curve: P14_CURVE, pts: [P14_G, P14_R, P14_W2, P14_M2, P14_W1], x: [-50.3, 43, 20], y: [42.687, 44.166], box: [794, 1894, 1420, 2272] },
  { title: 'AT2019meg / ZTF19abhhjcc', curve: P15_CURVE, pts: [P15_G, P15_R, P15_W2, P15_M2, P15_W1], x: [-35.1, 84.6, 20], y: [43.164, 44.576], box: [1502, 1893, 2127, 2273] },
];

const PAD_L = 80, PAD_T = 8, PAD_R = 16, PAD_B = 56;

function pentPath(g, cx, cy, r) {
  g.beginPath();
  for (let i = 0; i < 5; i++) {
    const a = -Math.PI / 2 + (i * 2 * Math.PI) / 5;
    const px = cx + r * Math.cos(a), py = cy + r * Math.sin(a);
    if (i === 0) g.moveTo(px, py); else g.lineTo(px, py);
  }
  g.closePath();
}

let PENT = null;
function pentagonImage() {
  if (PENT) return PENT;
  const c = document.createElement('canvas');
  c.width = 18; c.height = 18;
  const g = c.getContext('2d');
  pentPath(g, 9, 9.6, 6.6);
  g.fillStyle = FILL; g.fill();
  g.strokeStyle = EDGE; g.lineWidth = 1.5; g.stroke();
  PENT = c;
  return c;
}

function drawMarker(ctx, kind, x, y) {
  ctx.save();
  if (kind === 0) {
    ctx.strokeStyle = MARK; ctx.lineWidth = 2.2;
    ctx.beginPath(); ctx.moveTo(x - 7.5, y); ctx.lineTo(x + 7.5, y); ctx.moveTo(x, y - 7.5); ctx.lineTo(x, y + 7.5); ctx.stroke();
  } else if (kind === 1) {
    ctx.strokeStyle = MARK; ctx.lineWidth = 2.2;
    const d = 7;
    ctx.beginPath(); ctx.moveTo(x - d, y - d); ctx.lineTo(x + d, y + d); ctx.moveTo(x - d, y + d); ctx.lineTo(x + d, y - d); ctx.stroke();
  } else if (kind === 2) {
    pentPath(ctx, x, y + 0.8, 8);
    ctx.fillStyle = '#fff'; ctx.fill(); ctx.strokeStyle = EDGE; ctx.lineWidth = 1.5; ctx.stroke();
  } else if (kind === 3) {
    ctx.fillStyle = '#fff'; ctx.fillRect(x - 7.5, y - 7.5, 15, 15);
    ctx.strokeStyle = EDGE; ctx.lineWidth = 1.5; ctx.strokeRect(x - 7.5, y - 7.5, 15, 15);
  } else {
    ctx.beginPath(); ctx.arc(x, y, 8, 0, Math.PI * 2);
    ctx.fillStyle = '#fff'; ctx.fill(); ctx.strokeStyle = EDGE; ctx.lineWidth = 1.5; ctx.stroke();
  }
  ctx.restore();
}

function minorStep(step) {
  const m = step / Math.pow(10, Math.floor(Math.log10(step)));
  const five = [1, 2.5, 5, 10].some((v) => Math.abs(v - m) < 1e-6);
  return step / (five ? 5 : 4);
}

function makeDecor(cfg) {
  return {
    id: 'decor',
    beforeDatasetDraw(chart, args) {
      const ds = chart.data.datasets[args.index];
      if (!ds.errs) return;
      const ctx = chart.ctx;
      const xs = chart.scales.x, ys = chart.scales.y;
      const a = chart.chartArea;
      ctx.save();
      ctx.beginPath(); ctx.rect(a.left, a.top, a.right - a.left, a.bottom - a.top); ctx.clip();
      ctx.strokeStyle = 'rgba(30,30,30,0.8)';
      ctx.lineWidth = 2;
      ctx.beginPath();
      ds.errs.forEach((p) => {
        if (!p[2]) return;
        const px = xs.getPixelForValue(p[0]);
        ctx.moveTo(px, ys.getPixelForValue(Math.pow(10, p[1] - p[2])));
        ctx.lineTo(px, ys.getPixelForValue(Math.pow(10, p[1] + p[2])));
      });
      ctx.stroke();
      ctx.restore();
    },
    afterDraw(chart) {
      const ctx = chart.ctx;
      const { left, right, top, bottom } = chart.chartArea;
      const xs = chart.scales.x, ys = chart.scales.y;
      ctx.save();
      ctx.strokeStyle = '#2a2a2a';
      ctx.lineWidth = 1.4;
      ctx.strokeRect(left, top, right - left, bottom - top);
      const [x0, x1, step] = cfg.x;
      const mstep = minorStep(step);
      ctx.lineWidth = 1.2;
      ctx.beginPath();
      for (let v = Math.ceil(x0 / mstep) * mstep; v <= x1 + 1e-9; v += mstep) {
        const major = Math.abs(v / step - Math.round(v / step)) < 1e-6;
        const len = major ? 7 : 3.5;
        const px = Math.round(xs.getPixelForValue(v)) + 0.5;
        ctx.moveTo(px, bottom); ctx.lineTo(px, bottom - len);
        ctx.moveTo(px, top); ctx.lineTo(px, top + len);
      }
      const [y0, y1] = cfg.y;
      const labels = [];
      for (let k = Math.floor(y0); k <= Math.ceil(y1); k++) {
        for (let m = 1; m <= 9; m++) {
          const lv = k + Math.log10(m);
          if (lv < y0 - 1e-9 || lv > y1 + 1e-9) continue;
          const py = Math.round(ys.getPixelForValue(m * Math.pow(10, k))) + 0.5;
          const len = m === 1 ? 7 : 3.5;
          ctx.moveTo(left, py); ctx.lineTo(left + len, py);
          ctx.moveTo(right, py); ctx.lineTo(right - len, py);
          if (m === 1) labels.push([k, py]);
        }
      }
      ctx.stroke();
      ctx.fillStyle = '#000';
      ctx.textBaseline = 'middle';
      labels.forEach(([k, py]) => {
        const exp = String(k);
        ctx.font = `13px ${FONT}`;
        const ew = ctx.measureText(exp).width;
        ctx.textAlign = 'right';
        ctx.fillText(exp, left - 3, py - 6);
        ctx.font = `19.5px ${FONT}`;
        ctx.fillText('10', left - 3 - ew, py + 4);
      });
      ctx.font = `16px ${FONT}`;
      ctx.textAlign = 'center';
      ctx.fillText(cfg.title, (left + right) / 2, top + 15);
      if (cfg.legend) {
        const bx = left + 5, by = bottom - 48, bw = 238, bh = 43;
        ctx.fillStyle = 'rgba(255,255,255,0.85)';
        ctx.strokeStyle = '#cfcfcf';
        ctx.lineWidth = 1;
        ctx.beginPath();
        if (ctx.roundRect) ctx.roundRect(bx, by, bw, bh, 3); else ctx.rect(bx, by, bw, bh);
        ctx.fill(); ctx.stroke();
        const cols = [[left + 20, left + 41], [left + 103, left + 122], [left + 187, left + 209]];
        const rows = [bottom - 31, bottom - 15];
        const place = [[0, 0], [0, 1], [1, 0], [1, 1], [2, 0]];
        LEGEND_LABELS.forEach((lab, i) => {
          const [c, r] = place[i];
          drawMarker(ctx, i, cols[c][0], rows[r]);
          ctx.fillStyle = '#000';
          ctx.font = `13px ${FONT}`;
          ctx.textAlign = 'left';
          ctx.textBaseline = 'middle';
          ctx.fillText(lab, cols[c][1], rows[r] + 1);
        });
      }
      ctx.restore();
    },
  };
}

function buildConfig(cfg) {
  const xy = (arr, idx) => arr.map((p) => ({ x: p[0], y: Math.pow(10, p[idx]) }));
  const styles = [
    { pointStyle: 'cross', pointRadius: 7, pointBorderWidth: 2.2, pointBorderColor: MARK, pointBackgroundColor: MARK },
    { pointStyle: 'crossRot', pointRadius: 9.5, pointBorderWidth: 2.2, pointBorderColor: MARK, pointBackgroundColor: MARK },
    { pointStyle: pentagonImage(), pointRadius: 7 },
    { pointStyle: 'rect', pointRadius: 9, pointBorderWidth: 1.5, pointBorderColor: EDGE, pointBackgroundColor: FILL },
    { pointStyle: 'circle', pointRadius: 6.6, pointBorderWidth: 1.5, pointBorderColor: EDGE, pointBackgroundColor: FILL },
  ];
  const datasets = [
    { type: 'line', label: 'band-hi', data: xy(cfg.curve, 3), borderColor: 'transparent', borderWidth: 0, pointRadius: 0, fill: '+1', backgroundColor: BAND, order: 20, cubicInterpolationMode: 'monotone', clip: 0 },
    { type: 'line', label: 'band-lo', data: xy(cfg.curve, 2), borderColor: 'transparent', borderWidth: 0, pointRadius: 0, fill: false, order: 19, cubicInterpolationMode: 'monotone', clip: 0 },
    { type: 'line', label: 'model', data: xy(cfg.curve, 1), borderColor: LINE, borderWidth: 2.6, pointRadius: 0, fill: false, order: 15, cubicInterpolationMode: 'monotone', clip: 0 },
  ];
  cfg.pts.forEach((arr, i) => {
    datasets.push({ type: 'scatter', label: LEGEND_LABELS[i], data: xy(arr, 1), errs: arr, showLine: false, order: 10 - i, clip: 0, ...styles[i] });
  });
  const [x0, x1, step] = cfg.x;
  return {
    type: 'scatter',
    data: { datasets },
    options: {
      animation: false,
      responsive: false,
      devicePixelRatio: 1,
      events: [],
      layout: { padding: { left: 0, top: PAD_T, right: PAD_R, bottom: 0 } },
      plugins: { legend: { display: false }, tooltip: { enabled: false } },
      scales: {
        x: {
          type: 'linear', min: x0, max: x1, bounds: 'data',
          grid: { display: false, drawTicks: false }, border: { display: false },
          ticks: { autoSkip: false, maxRotation: 0, padding: 5, color: '#000', font: { family: FONT, size: 20 }, callback: (v) => String(v).replace('-', '\u2212') },
          afterBuildTicks: (s) => {
            const t = [];
            for (let v = Math.ceil((x0 - 1e-9) / step) * step; v <= x1 + 1e-9; v += step) t.push({ value: Math.round(v * 1000) / 1000 + 0 });
            s.ticks = t;
          },
          title: { display: true, text: X_TITLE, color: '#000', font: { family: FONT, size: 20.5 }, padding: { top: 0, bottom: 10 } },
          afterFit: (s) => { s.height = PAD_B; },
        },
        y: {
          type: 'logarithmic', min: Math.pow(10, cfg.y[0]), max: Math.pow(10, cfg.y[1]), bounds: 'data',
          grid: { display: false, drawTicks: false }, border: { display: false },
          ticks: { display: false },
          title: { display: true, text: Y_TITLE, color: '#000', font: { family: FONT, size: 20.5 }, padding: { top: 16, bottom: 0 } },
          afterFit: (s) => { s.width = PAD_L; },
        },
      },
    },
    plugins: [makeDecor(cfg)],
  };
}

function Panel({ cfg }) {
  const ref = useRef(null);
  const [L, T, R, B] = cfg.box;
  const W = R - L + PAD_L + PAD_R;
  const H = B - T + PAD_T + PAD_B;
  useEffect(() => {
    const chart = new Chart(ref.current, buildConfig(cfg));
    return () => chart.destroy();
  }, []);
  return (
    <canvas ref={ref} width={W} height={H}
      style={{ position: 'absolute', left: L - PAD_L, top: T - PAD_T, width: W, height: H }} />
  );
}

export default function App() {
  return (
    <div style={{ position: 'absolute', left: 0, top: 0, width: 2134, height: 2328, background: '#fff', overflow: 'hidden' }}>
      {PANELS.map((p, i) => <Panel key={i} cfg={p} />)}
    </div>
  );
}
